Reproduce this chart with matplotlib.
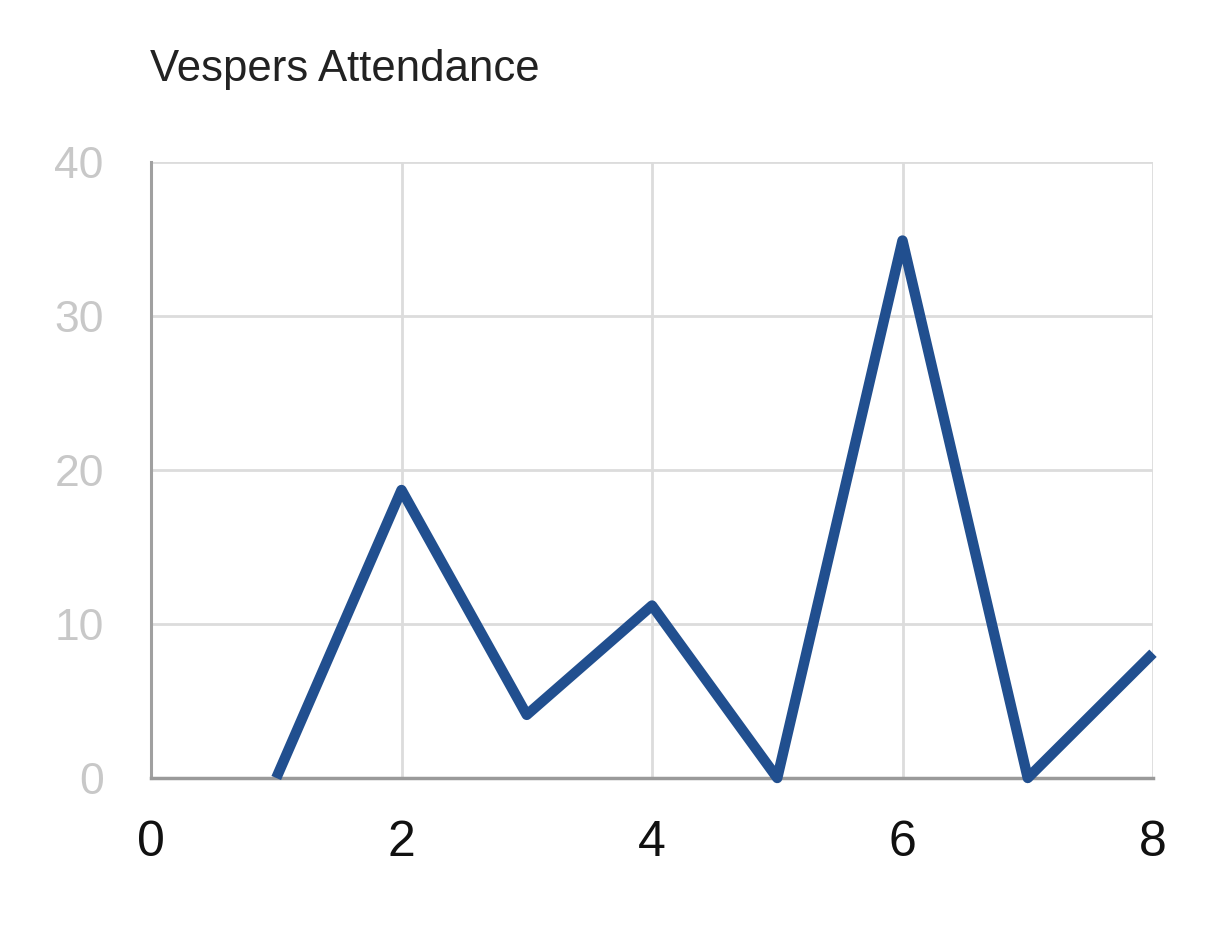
import matplotlib
matplotlib.use("Agg")
import matplotlib.pyplot as plt

# ---------- data ----------
title = "Vespers Attendance"
weeks = [1, 2, 3, 4, 5, 6, 7, 8]
attendance = [0, 18.7, 4.1, 11.2, 0, 34.9, 0, 8.1]
x_ticks = [0, 2, 4, 6, 8]
y_ticks = [0, 10, 20, 30, 40]
# --------------------------

plt.rcParams['font.family'] = ['Liberation Sans', 'DejaVu Sans']

fig = plt.figure(figsize=(12.28, 9.26), dpi=100)
ax = fig.add_axes([151/1228, 148/926, 1002/1228, 616/926])

ax.plot(weeks, attendance, color="#214f8f", linewidth=7.5,
        solid_joinstyle="round", solid_capstyle="butt",
        clip_on=False, zorder=3)

ax.set_xlim(0, 8)
ax.set_ylim(0, 40)
ax.set_xticks(x_ticks)
ax.set_yticks(y_ticks)
ax.grid(True, color="#dcdcdc", linewidth=2)
ax.set_axisbelow(True)

for side in ["top", "right"]:
    ax.spines[side].set_visible(False)
ax.spines["left"].set_color("#a0a0a0")
ax.spines["left"].set_linewidth(2.2)
ax.spines["bottom"].set_color("#9a9a9a")
ax.spines["bottom"].set_linewidth(2.5)

ax.tick_params(axis="both", length=0)
ax.tick_params(axis="y", labelsize=32, labelcolor="#c8c8c8", pad=34)
ax.tick_params(axis="x", labelsize=36, labelcolor="#111111", pad=30)

fig.text(150/1228, 1 - 70/926, title, fontsize=31.5, color="#222222",
         va="center", ha="left")

fig.savefig("out.png", dpi=100)
